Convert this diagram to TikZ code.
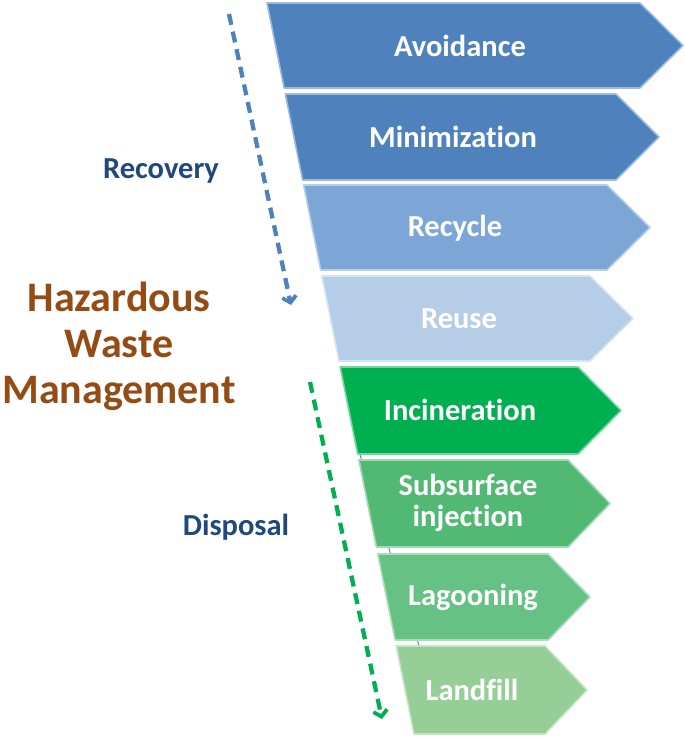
\documentclass[tikz,border=0pt]{standalone}
\usepackage{fontspec}
\setmainfont{Carlito}[Ligatures=CommonOff]
\usetikzlibrary{arrows.meta}
\definecolor{bA}{RGB}{79,129,189}
\definecolor{bB}{RGB}{124,166,214}
\definecolor{bC}{RGB}{181,205,231}
\definecolor{gA}{RGB}{0,176,80}
\definecolor{gB}{RGB}{82,185,117}
\definecolor{gC}{RGB}{102,193,133}
\definecolor{gD}{RGB}{150,206,152}
\definecolor{darkblue}{RGB}{31,73,125}
\definecolor{brown}{RGB}{148,75,20}
\definecolor{thinblue}{RGB}{68,114,196}
\tikzset{
  chev/.style={fill=#1, draw=#1!55!white, line width=1.6pt, line join=round},
  lbl/.style={text=white, font=\fontsize{30.5}{31}\selectfont\bfseries, align=center, inner sep=0pt},
  side/.style={text=darkblue, font=\fontsize{30.5}{31}\selectfont\bfseries, inner sep=0pt},
  title/.style={text=brown, font=\fontsize{42}{46}\selectfont\bfseries, align=center, inner sep=0pt},
  dasharrow/.style={draw=#1, line width=4.3pt, dash pattern=on 11pt off 7pt, -{Straight Barb[length=6pt,width=14pt,line width=3.8pt]}}
}
\begin{document}
\begin{tikzpicture}[x=1pt,y=-1pt]
\useasboundingbox (0,0) rectangle (685,742);
% thin line behind shapes
\coordinate (t1) at (356,442);
\coordinate (t2) at (421,652);
\draw[thinblue, line width=0.8pt] (t1) -- (t2);
% chevrons
\draw[chev=bA] (267,3) -- (640,3) -- (683,45.5) -- (640,88) -- (284.1,88) -- cycle;
\draw[chev=bA] (285.3,94) -- (616,94) -- (659,137) -- (616,180) -- (302.6,180) -- cycle;
\draw[chev=bB] (303.6,185) -- (607,185) -- (650,227.5) -- (607,270) -- (320.7,270) -- cycle;
\draw[chev=bC] (321.9,276) -- (590,276) -- (633,318.5) -- (590,361) -- (339.0,361) -- cycle;
\draw[chev=gA] (340.2,367) -- (578,367) -- (621,410.5) -- (578,454) -- (357.7,454) -- cycle;
\draw[chev=gB] (358.9,460) -- (568,460) -- (610,503.5) -- (568,547) -- (376.4,547) -- cycle;
\draw[chev=gC] (377.8,554) -- (548,554) -- (590,597) -- (548,640) -- (395.1,640) -- cycle;
\draw[chev=gD] (396.3,646) -- (545,646) -- (587,690) -- (545,734) -- (414.0,734) -- cycle;
% labels
\node[lbl] (avoid) at (460,46) {Avoidance};
\node[lbl] (mini) at (453,137) {Minimization};
\node[lbl] (recy) at (455,228) {Recycle};
\node[lbl] (reuse) at (459,319) {Reuse};
\node[lbl] (inci) at (460,410) {Incineration};
\node[lbl] (subs) at (468,503) {Subsurface\\injection};
\node[lbl] (lagoon) at (473,597) {Lagooning};
\node[lbl] (land) at (472,690) {Landfill};
% side texts
\node[side] (recov) at (161,171) {Recovery};
\node[side] (disp) at (236,527) {Disposal};
\node[title] (hwm) at (119,346) {Hazardous\\Waste\\Management};
% dashed arrows
\coordinate (ba) at (229,14);
\coordinate (bb) at (291,305);
\coordinate (ga) at (310,382);
\coordinate (gb) at (382,719);
\draw[dasharrow=bA] (ba) -- (bb);
\draw[dasharrow=gA] (ga) -- (gb);
\end{tikzpicture}
\end{document}
